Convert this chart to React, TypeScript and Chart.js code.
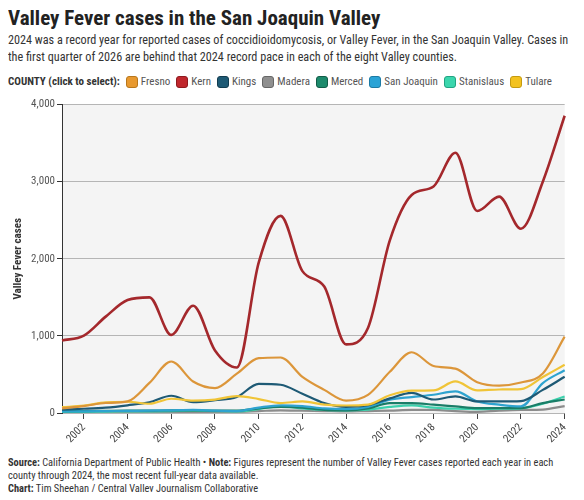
import React, { useEffect, useRef } from "react";
import { Chart, registerables } from "chart.js";

Chart.register(...registerables);

const years = ["2001","2002","2003","2004","2005","2006","2007","2008","2009","2010","2011","2012","2013","2014","2015","2016","2017","2018","2019","2020","2021","2022","2023","2024"];

const fresno = [60, 90, 130, 150, 390, 668, 409, 323, 510, 711, 720, 470, 300, 160, 235, 534, 788, 610, 575, 400, 355, 395, 512, 990];
const kern = [940, 1004, 1250, 1465, 1500, 1013, 1392, 810, 590, 1950, 2557, 1840, 1640, 890, 1103, 2240, 2828, 2938, 3375, 2620, 2806, 2390, 3000, 3855];
const kings = [45, 55, 70, 100, 140, 224, 140, 165, 207, 378, 366, 250, 129, 78, 100, 190, 260, 175, 215, 150, 150, 155, 300, 470];
const madera = [10, 10, 10, 12, 12, 15, 15, 12, 15, 25, 35, 30, 25, 20, 25, 30, 40, 40, 25, 15, 30, 40, 45, 90];
const merced = [25, 25, 28, 30, 30, 35, 35, 30, 30, 60, 80, 70, 40, 35, 60, 129, 129, 108, 86, 64, 64, 64, 129, 175];
const sanJoaquin = [20, 22, 25, 28, 30, 35, 40, 30, 25, 70, 100, 90, 60, 50, 80, 172, 207, 237, 280, 150, 108, 86, 388, 555];
const stanislaus = [15, 15, 18, 20, 22, 25, 30, 25, 20, 50, 90, 60, 40, 35, 45, 80, 100, 70, 55, 50, 55, 60, 120, 215];
const tulare = [75, 95, 138, 146, 120, 185, 160, 174, 220, 181, 129, 150, 108, 97, 108, 230, 290, 293, 409, 293, 305, 310, 466, 625];

const yTicks = [0, 1000, 2000, 3000, 4000];

const counties = [
  { name: "Fresno", data: fresno, line: "#dc963a", fill: "#e8992f", border: "#b8771c" },
  { name: "Kern", data: kern, line: "#a4282c", fill: "#c0272d", border: "#8e1a1f" },
  { name: "Kings", data: kings, line: "#1e5a75", fill: "#1e5a75", border: "#123c50" },
  { name: "Madera", data: madera, line: "#8c8c8c", fill: "#8f8f8f", border: "#666666" },
  { name: "Merced", data: merced, line: "#1a7d67", fill: "#1d8a6c", border: "#125c48" },
  { name: "San Joaquin", data: sanJoaquin, line: "#2ea3cf", fill: "#2aa3d6", border: "#1c7aa3" },
  { name: "Stanislaus", data: stanislaus, line: "#3dd1ad", fill: "#3bd6ad", border: "#22a382" },
  { name: "Tulare", data: tulare, line: "#f0c437", fill: "#f3c21f", border: "#c49a10" },
];

const drawOrder = ["Kern", "Fresno", "Tulare", "Kings", "San Joaquin", "Merced", "Stanislaus", "Madera"];

const FONT = "'Roboto Condensed', 'Roboto', sans-serif";

const bgPlugin = {
  id: "plotBg",
  beforeDraw(chart: any) {
    const { ctx, chartArea } = chart;
    if (!chartArea) return;
    ctx.save();
    ctx.fillStyle = "#f4f4f4";
    ctx.fillRect(chartArea.left, chartArea.top, chartArea.right - chartArea.left, chartArea.bottom - chartArea.top);
    ctx.restore();
  },
};

function LineChart() {
  const ref = useRef<HTMLCanvasElement | null>(null);
  useEffect(() => {
    if (!ref.current) return;
    const datasets = drawOrder.map((n) => {
      const c = counties.find((x) => x.name === n)!;
      return {
        label: c.name,
        data: c.data,
        borderColor: c.line,
        backgroundColor: c.line,
        borderWidth: n === "Kern" ? 2.6 : 2.2,
        pointRadius: 0,
        pointHoverRadius: 0,
        tension: 0.4,
        cubicInterpolationMode: "monotone" as const,
        fill: false,
      };
    });
    const chart = new Chart(ref.current, {
      type: "line",
      data: { labels: years, datasets },
      plugins: [bgPlugin],
      options: {
        animation: false,
        responsive: false,
        maintainAspectRatio: false,
        events: [],
        layout: { padding: { left: 0, right: 8, top: 8, bottom: 0 } },
        plugins: { legend: { display: false }, tooltip: { enabled: false }, title: { display: false } },
        scales: {
          x: {
            type: "category",
            offset: false,
            border: { display: false },
            grid: {
              drawOnChartArea: false,
              drawTicks: true,
              tickLength: 6,
              color: (ctx: any) => (ctx.index % 2 === 1 ? "#444" : "rgba(0,0,0,0)"),
            },
            ticks: {
              autoSkip: false,
              maxRotation: 45,
              minRotation: 45,
              padding: 2,
              color: "#444",
              font: { family: FONT, size: 11 },
              callback: (_v: any, i: number) => (i % 2 === 1 ? years[i] : ""),
            },
            afterFit: (scale: any) => {
              scale.height = 43;
            },
          },
          y: {
            min: yTicks[0],
            max: yTicks[yTicks.length - 1],
            border: { display: true, color: "#333", width: 1 },
            grid: { color: "#b5b5b5", tickColor: "#333", tickLength: 5, lineWidth: 1 },
            ticks: {
              stepSize: 1000,
              padding: 2,
              color: "#555",
              font: { family: FONT, size: 11 },
              callback: (v: any) => Number(v).toLocaleString("en-US"),
            },
            title: {
              display: true,
              text: "Valley Fever cases",
              color: "#333",
              font: { family: FONT, size: 11, weight: "bold" },
              padding: { top: 4, bottom: 0 },
            },
            afterFit: (scale: any) => {
              scale.width = 54;
            },
          },
        },
      },
    });
    return () => chart.destroy();
  }, []);
  return <canvas ref={ref} width={568} height={360} style={{ display: "block", width: 568, height: 360 }} />;
}

export default function App() {
  return (
    <div style={{ position: "relative", width: 568, height: 484, fontFamily: FONT, color: "#333" }}>
      <div style={{ position: "absolute", left: 0, top: -2, fontSize: 21, lineHeight: "24px", fontWeight: 700, color: "#222", whiteSpace: "nowrap" }}>
        Valley Fever cases in the San Joaquin Valley
      </div>
      <div style={{ position: "absolute", left: 0, top: 24, fontSize: 12.2, lineHeight: "17px", color: "#333", whiteSpace: "nowrap" }}>
        2024 was a record year for reported cases of coccidioidomycosis, or Valley Fever, in the San Joaquin Valley. Cases in
        <br />
        the first quarter of 2026 are behind that 2024 record pace in each of the eight Valley counties.
      </div>
      <div style={{ position: "absolute", left: 0, top: 66, height: 16, display: "flex", alignItems: "center", fontSize: 11, lineHeight: "16px", whiteSpace: "nowrap" }}>
        <span style={{ fontWeight: 700, color: "#333", marginRight: 6 }}>COUNTY (click to select):</span>
        {counties.map((c) => (
          <span key={c.name} style={{ display: "inline-flex", alignItems: "center", marginRight: 6 }}>
            <span style={{ display: "inline-block", width: 10, height: 10, borderRadius: 3, background: c.fill, border: `1px solid ${c.border}`, marginRight: 3 }} />
            <span style={{ color: "#555" }}>{c.name}</span>
          </span>
        ))}
      </div>
      <div style={{ position: "absolute", left: 0, top: 88 }}>
        <LineChart />
      </div>
      <div style={{ position: "absolute", left: 0, top: 448, fontSize: 10.4, lineHeight: "13px", color: "#333", whiteSpace: "nowrap" }}>
        <div>
          <b>Source:</b> California Department of Public Health • <b>Note:</b> Figures represent the number of Valley Fever cases reported each year in each
          <br />
          county through 2024, the most recent full-year data available.
        </div>
        <div>
          <b>Chart:</b> Tim Sheehan / Central Valley Journalism Collaborative
        </div>
      </div>
    </div>
  );
}
